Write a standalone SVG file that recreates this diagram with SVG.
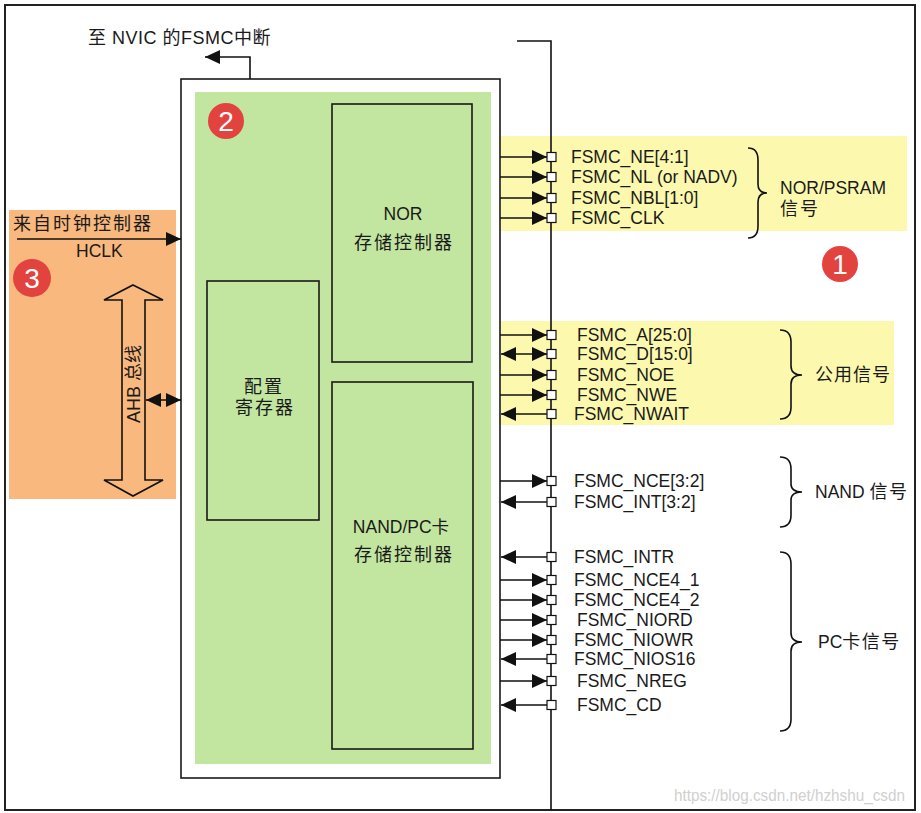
<svg xmlns="http://www.w3.org/2000/svg" width="921" height="813" viewBox="0 0 921 813">
<defs>
<marker id="ah" markerUnits="userSpaceOnUse" markerWidth="15" markerHeight="14" refX="15" refY="7" orient="auto-start-reverse">
<path d="M0,0 L15,7 L0,14 Z" fill="#111"/>
</marker>
</defs>
<style>
text{font-family:"Liberation Sans","Noto Sans CJK SC",sans-serif;fill:#1a1a1a}
.t{font-size:17.5px}
.cj{font-size:18px;letter-spacing:2px}
.box{fill:none;stroke:#1a1a1a;stroke-width:1.6}
.ln{stroke:#111;stroke-width:1.6;fill:none}
.arr{stroke:#111;stroke-width:1.6;fill:none;marker-end:url(#ah)}
.bi{stroke:#111;stroke-width:1.6;fill:none;marker-start:url(#ah);marker-end:url(#ah)}
.pin{fill:#fff;stroke:#111;stroke-width:1.2}
.brace{fill:none;stroke:#111;stroke-width:1.6}
.badge{fill:#e2433f}
.num{font-size:28px;fill:#fff;text-anchor:middle}
</style>
<rect x="0" y="0" width="921" height="813" fill="#fff"/>
<rect x="5" y="5" width="910" height="805" fill="none" stroke="#222" stroke-width="2"/>

<!-- background regions -->
<rect id="region-nor-signals" x="501" y="136" width="406" height="95" fill="#fcf9ae"/>
<rect id="region-common-signals" x="501" y="321" width="393" height="104" fill="#fcf9ae"/>

<g id="clock-region">
<rect x="9" y="210" width="167" height="289" fill="#f8b87e"/>
<text class="cj" x="13" y="230" style="letter-spacing:2px">来自时钟控制器</text>
<text class="t" x="76" y="257">HCLK</text>
<path d="M133,285 L163,300 L145,300 L145,480 L163,480 L133,496 L104,480 L122,480 L122,300 L104,300 Z" fill="none" stroke="#111" stroke-width="1.6"/>
<text class="t" transform="translate(140,384) rotate(-90)" text-anchor="middle" style="font-size:18px">AHB 总线</text>
<circle class="badge" cx="32" cy="278" r="19"/>
<text class="num" x="32" y="288">3</text>
</g>

<g id="fsmc">
<rect x="181" y="79" width="319" height="699" fill="#fff" stroke="#1a1a1a" stroke-width="1.6"/>
<rect x="195" y="92" width="296" height="672" fill="#c2e6a0"/>
<circle class="badge" cx="226" cy="121" r="18"/>
<text class="num" x="226" y="131">2</text>
</g>

<g id="nor-controller">
<rect class="box" x="332" y="104" width="140" height="258"/>
<text class="t" x="403" y="220" text-anchor="middle">NOR</text>
<text class="cj" x="404" y="249" text-anchor="middle">存储控制器</text>
</g>

<g id="config-registers">
<rect class="box" x="207" y="281" width="112" height="239"/>
<text class="cj" x="264" y="393" text-anchor="middle">配置</text>
<text class="cj" x="265" y="414" text-anchor="middle">寄存器</text>
</g>

<g id="nand-controller">
<rect class="box" x="332" y="382" width="141" height="367"/>
<text class="t" x="401" y="533" text-anchor="middle">NAND/PC卡</text>
<text class="cj" x="404" y="561" text-anchor="middle">存储控制器</text>
</g>

<g id="nvic-label">
<text x="88" y="44" style="font-size:18px;letter-spacing:0.5px">至 NVIC 的FSMC中断</text>
</g>

<g id="connectors">
<polyline class="arr" points="250,79 250,57 205,57"/>
<polyline class="ln" points="517,41 551,41 551,810"/>
<line class="arr" x1="17" y1="239" x2="181" y2="239"/>
<line class="bi" x1="146" y1="400" x2="181" y2="400"/>
<!-- NOR/PSRAM -->
<line class="arr" x1="500" y1="157" x2="547" y2="157"/>
<line class="arr" x1="500" y1="177" x2="547" y2="177"/>
<line class="arr" x1="500" y1="198" x2="547" y2="198"/>
<line class="arr" x1="500" y1="218" x2="547" y2="218"/>
<!-- common -->
<line class="arr" x1="500" y1="335" x2="547" y2="335"/>
<line class="bi" x1="501" y1="354" x2="547" y2="354"/>
<line class="arr" x1="500" y1="375" x2="547" y2="375"/>
<line class="arr" x1="500" y1="395" x2="547" y2="395"/>
<line class="arr" x1="547" y1="414" x2="501" y2="414"/>
<!-- NAND -->
<line class="arr" x1="500" y1="481" x2="547" y2="481"/>
<line class="arr" x1="547" y1="502" x2="501" y2="502"/>
<!-- PC card -->
<line class="arr" x1="547" y1="557" x2="501" y2="557"/>
<line class="arr" x1="500" y1="580" x2="547" y2="580"/>
<line class="arr" x1="500" y1="600" x2="547" y2="600"/>
<line class="arr" x1="500" y1="620" x2="547" y2="620"/>
<line class="arr" x1="500" y1="640" x2="547" y2="640"/>
<line class="arr" x1="547" y1="659" x2="501" y2="659"/>
<line class="arr" x1="500" y1="681" x2="547" y2="681"/>
<line class="arr" x1="547" y1="705" x2="501" y2="705"/>
</g>

<g id="pins">
<rect class="pin" x="547" y="152.5" width="9" height="9"/>
<rect class="pin" x="547" y="172.5" width="9" height="9"/>
<rect class="pin" x="547" y="193.5" width="9" height="9"/>
<rect class="pin" x="547" y="213.5" width="9" height="9"/>
<rect class="pin" x="547" y="330.5" width="9" height="9"/>
<rect class="pin" x="547" y="349.5" width="9" height="9"/>
<rect class="pin" x="547" y="370.5" width="9" height="9"/>
<rect class="pin" x="547" y="390.5" width="9" height="9"/>
<rect class="pin" x="547" y="409.5" width="9" height="9"/>
<rect class="pin" x="547" y="476.5" width="9" height="9"/>
<rect class="pin" x="547" y="497.5" width="9" height="9"/>
<rect class="pin" x="547" y="552.5" width="9" height="9"/>
<rect class="pin" x="547" y="575.5" width="9" height="9"/>
<rect class="pin" x="547" y="595.5" width="9" height="9"/>
<rect class="pin" x="547" y="615.5" width="9" height="9"/>
<rect class="pin" x="547" y="635.5" width="9" height="9"/>
<rect class="pin" x="547" y="654.5" width="9" height="9"/>
<rect class="pin" x="547" y="676.5" width="9" height="9"/>
<rect class="pin" x="547" y="700.5" width="9" height="9"/>
</g>

<g id="nor-psram-signals">
<text class="t" x="571" y="163">FSMC_NE[4:1]</text>
<text class="t" x="571" y="183">FSMC_NL (or NADV)</text>
<text class="t" x="571" y="204">FSMC_NBL[1:0]</text>
<text class="t" x="571" y="224">FSMC_CLK</text>
<path class="brace" d="M748,148 Q758,148 758,160 L758,184 Q758,193 767,193 Q758,193 758,202 L758,226 Q758,238 748,238"/>
<text class="t" x="780" y="194">NOR/PSRAM</text>
<text class="cj" x="780" y="215">信号</text>
<circle class="badge" cx="840" cy="264" r="18"/>
<text class="num" x="840" y="274">1</text>
</g>

<g id="common-signals">
<text class="t" x="577" y="341">FSMC_A[25:0]</text>
<text class="t" x="577" y="360">FSMC_D[15:0]</text>
<text class="t" x="577" y="381">FSMC_NOE</text>
<text class="t" x="577" y="401">FSMC_NWE</text>
<text class="t" x="574" y="420">FSMC_NWAIT</text>
<path class="brace" d="M780,330 Q791,330 791,342 L791,366 Q791,375 802,375 Q791,375 791,384 L791,407 Q791,419 780,419"/>
<text class="cj" x="815" y="381" style="letter-spacing:1px">公用信号</text>
</g>

<g id="nand-signals">
<text class="t" x="574" y="487">FSMC_NCE[3:2]</text>
<text class="t" x="574" y="508">FSMC_INT[3:2]</text>
<path class="brace" d="M780,457 Q791,457 791,469 L791,484 Q791,492 802,492 Q791,492 791,500 L791,515 Q791,527 780,527"/>
<text class="t" x="815" y="498">NAND <tspan style="font-size:18px;letter-spacing:1.5px">信号</tspan></text>
</g>

<g id="pc-card-signals">
<text class="t" x="574" y="563">FSMC_INTR</text>
<text class="t" x="574" y="586">FSMC_NCE4_1</text>
<text class="t" x="574" y="606">FSMC_NCE4_2</text>
<text class="t" x="577" y="626">FSMC_NIORD</text>
<text class="t" x="574" y="646">FSMC_NIOWR</text>
<text class="t" x="574" y="665">FSMC_NIOS16</text>
<text class="t" x="577" y="687">FSMC_NREG</text>
<text class="t" x="577" y="711">FSMC_CD</text>
<path class="brace" d="M780,552 Q791,552 791,564 L791,633 Q791,642 802,642 Q791,642 791,651 L791,719 Q791,731 780,731"/>
<text class="t" x="818" y="648">PC<tspan style="font-size:18px;letter-spacing:1.5px">卡信号</tspan></text>
</g>

<text x="674" y="801" style="font-size:16px;fill:#d0d0d0" textLength="231" lengthAdjust="spacingAndGlyphs">https://blog.csdn.net/hzhshu_csdn</text>
</svg>
